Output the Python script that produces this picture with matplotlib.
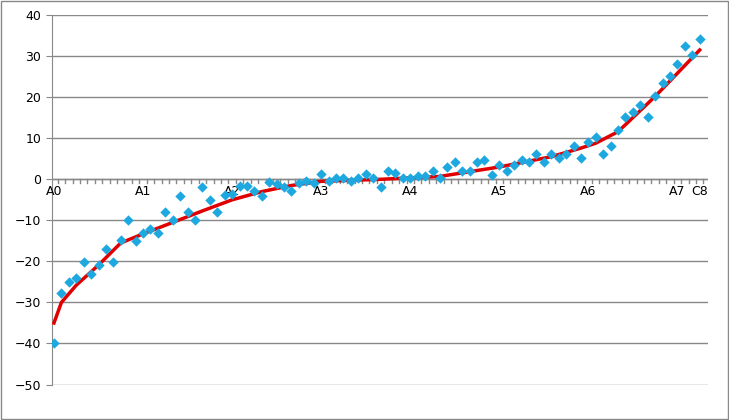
import matplotlib.pyplot as plt
from matplotlib.patches import Rectangle

# measured values, one per piano key (A0 .. C8)
values = [-40, -27.8, -25, -24, -20.2, -23.1, -21, -16.9, -20.2, -14.9,
          -9.8, -15, -13, -12, -13.1, -7.9, -9.9, -4, -7.9, -9.9,
          -1.8, -5, -7.9, -3.9, -3.6, -1.6, -1.6, -2.8, -4, -0.7,
          -1.2, -1.8, -2.8, -0.8, -0.3, -1, 1.2, -0.4, 0.2, 0.2,
          -0.4, 0.2, 1.2, 0.2, -1.8, 2.1, 1.5, 0.3, 0.3, 0.7,
          0.9, 2.1, 0.2, 3.1, 4.1, 2.1, 2.1, 4.1, 4.6, 1.1,
          3.6, 2.1, 3.6, 4.6, 4.1, 6.2, 4.1, 6.2, 5.2, 6.2,
          8.2, 5.3, 9.2, 10.2, 6.2, 8.2, 12.1, 15.3, 16.3, 18.2,
          15.3, 20.2, 23.4, 25.2, 28.2, 32.4, 30.4, 34.3]

# red curve, read at a few keys
trend_keys = [0, 1, 3, 6, 9, 12, 16, 20, 24, 28, 32, 36, 44, 52, 60, 67, 71, 73, 76, 81, 87]
trend_vals = [-35, -30, -25.8, -20.9, -15.5, -13.3, -10.5, -7.7, -5, -3, -1.5, -0.5,
              0, 0.7, 3.0, 5.5, 7.6, 8.8, 11.6, 20.2, 31.5]

label_pos = [0, 12, 24, 36, 48, 60, 72, 84, 87]
label_txt = ['A0', 'A1', 'A2', 'A3', 'A4', 'A5', 'A6', 'A7', 'C8']

fig = plt.figure(figsize=(7.29, 4.2), dpi=100)
ax = fig.add_axes([0.071, 0.083, 0.900, 0.881])

keys = list(range(len(values)))
ax.plot(trend_keys, trend_vals, color='#e00000', lw=2.5, zorder=3)
ax.scatter(keys, values, marker='D', s=28, color='#1ea8e0', zorder=4, linewidths=0)

ax.set_xlim(-0.3, 88.1)
ax.set_ylim(-50.15, 40)
ax.set_yticks(range(-50, 41, 10))
ax.yaxis.grid(True, color='#888888', lw=1)
ax.set_axisbelow(True)
for s in ['top', 'right', 'bottom']:
    ax.spines[s].set_visible(False)
ax.spines['left'].set_color('#888888')
ax.tick_params(axis='y', length=4, color='#888888', labelsize=9)
ax.set_xticks([])

# category axis at y=0 with a tick per key
ax.axhline(0, color='#888888', lw=1, zorder=2)
for k in keys:
    ax.plot([k + 0.5, k + 0.5], [0, -0.9], color='#888888', lw=1, zorder=2)
for p, t in zip(label_pos, label_txt):
    ax.text(p, -1.3, t, ha='center', va='top', fontsize=9)

fig.patches.append(Rectangle((0.002, 0.003), 0.996, 0.994, transform=fig.transFigure,
                             fill=False, edgecolor='#888888', lw=1))
fig.savefig('out.png', dpi=100)
